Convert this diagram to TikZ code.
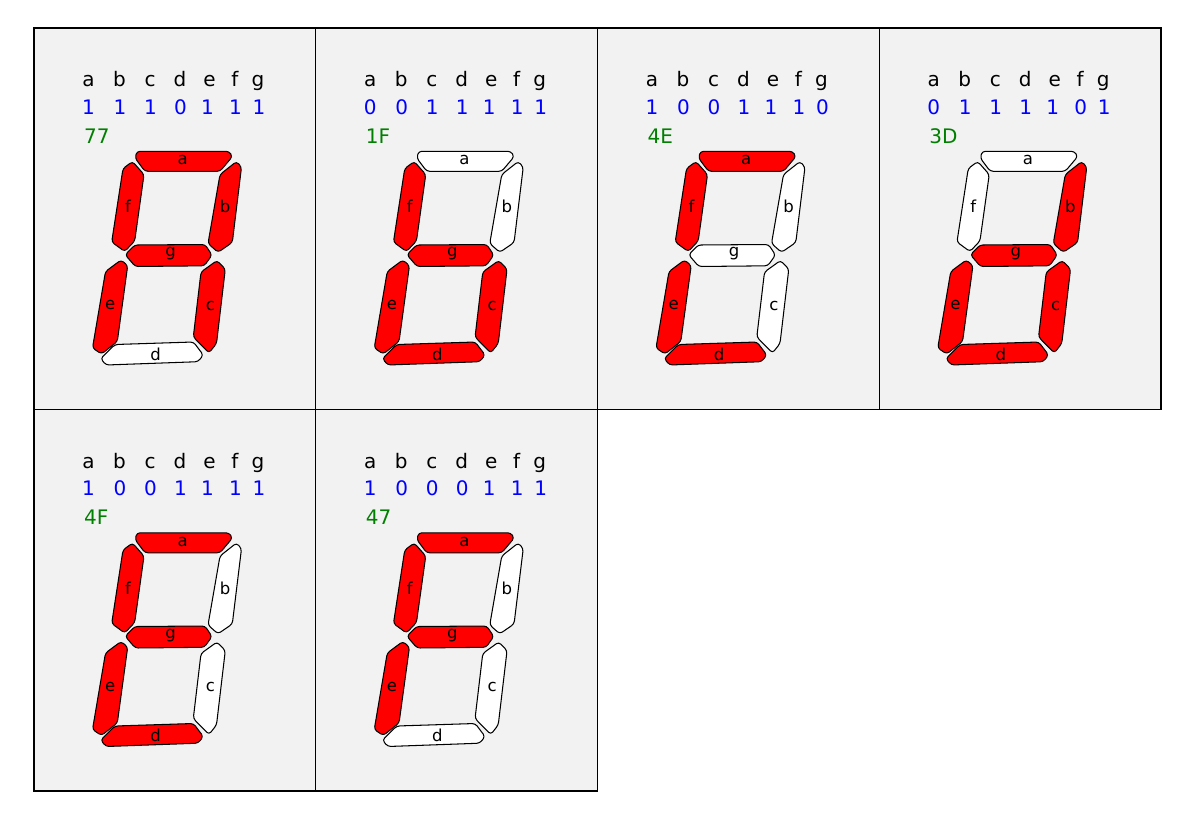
\documentclass[tikz,border=0pt]{standalone}
\usepackage{fontspec}
\setmainfont{DejaVu Sans}
\definecolor{panelbg}{RGB}{242,242,242}
\definecolor{segred}{RGB}{255,0,0}
\definecolor{bitblue}{RGB}{0,0,255}
\definecolor{hexgreen}{RGB}{0,128,0}
\tikzset{
  panelbox/.style={draw=black, fill=panelbg, line width=1.2pt},
  seg/.style={draw=black, line width=1.05pt, rounded corners=3pt, line join=round},
  hdr/.style={anchor=base, inner sep=0pt, font=\fontsize{20}{24}\selectfont},
  bit/.style={hdr, text=bitblue},
  hexlbl/.style={anchor=base west, inner sep=0pt, font=\fontsize{20}{24}\selectfont, text=hexgreen},
  seglbl/.style={inner sep=0pt, font=\fontsize{16.5}{19}\selectfont},
}
\newcommand\bitcol[1]{\ifnum#1=1 segred\else white\fi}
\def\parsebits#1#2#3#4#5#6#7\relax{%
  \edef\ca{\bitcol{#1}}\edef\cb{\bitcol{#2}}\edef\cc{\bitcol{#3}}%
  \edef\cd{\bitcol{#4}}\edef\ce{\bitcol{#5}}\edef\cf{\bitcol{#6}}\edef\cg{\bitcol{#7}}%
  \def\ba{#1}\def\bb{#2}\def\bc{#3}\def\bd{#4}\def\be{#5}\def\bf{#6}\def\bg{#7}}
\newcommand\panel[5]{%
  \parsebits#3\relax
  \begin{scope}[shift={({34+#1*281.75},{28+#2*381.5})}]
    \draw[panelbox] (0,0) rectangle (281.75,381.5);
    % header letters
    \node[hdr] (#5-ha) at (54.5,58.7) {a};
    \node[hdr] (#5-hb) at (85.5,58.7) {b};
    \node[hdr] (#5-hc) at (116,58.7) {c};
    \node[hdr] (#5-hd) at (146,58.7) {d};
    \node[hdr] (#5-he) at (175.5,58.7) {e};
    \node[hdr] (#5-hf) at (201,58.7) {f};
    \node[hdr] (#5-hg) at (224,58.7) {g};
    % bits
    \node[bit] (#5-ba) at (54.5,86) {\ba};
    \node[bit] (#5-bb) at (86,86) {\bb};
    \node[bit] (#5-bc) at (116.5,86) {\bc};
    \node[bit] (#5-bd) at (146.5,86) {\bd};
    \node[bit] (#5-be) at (173.5,86) {\be};
    \node[bit] (#5-bf) at (201.5,86) {\bf};
    \node[bit] (#5-bg) at (225,86) {\bg};
    % hex
    \node[hexlbl] (#5-hex) at (50,115.3) {#4};
    % segments
    \draw[seg, fill=\ca] (103,123.3) -- (195,123.3) -- (198.5,128.5) -- (186,143.3) -- (111,143.3) -- (101,130) -- cycle;
    \draw[seg, fill=\cf] (98.5,133.5) -- (110,146.5) -- (100.7,213) -- (90.7,223.5) -- (77.7,214) -- (89,140.5) -- cycle;
    \draw[seg, fill=\cb] (202.5,133.5) -- (207.5,139) -- (198.3,214.5) -- (184,224.3) -- (174,215.5) -- (186,146.5) -- cycle;
    \draw[seg, fill=\cg] (91.2,226.8) -- (100.7,217) -- (171,216.5) -- (178,227) -- (170.3,237.8) -- (101.3,238.5) -- cycle;
    \draw[seg, fill=\ce] (87,232) -- (93.7,237.5) -- (83.3,313.5) -- (67.5,326) -- (58.5,320) -- (71.5,243.5) -- cycle;
    \draw[seg, fill=\cc] (183,232.5) -- (191.3,241) -- (182.5,315.5) -- (175,325) -- (159.3,309) -- (167,244) -- cycle;
    \draw[seg, fill=\cd] (81,316.5) -- (159.5,314) -- (169.3,327) -- (164,333.7) -- (72,337) -- (66.7,330.5) -- cycle;
    % segment labels
    \node[seglbl] (#5-la) at (148.7,132) {a};
    \node[seglbl] (#5-lb) at (191.2,178.7) {b};
    \node[seglbl] (#5-lc) at (176.3,277.5) {c};
    \node[seglbl] (#5-ld) at (121.5,326.2) {d};
    \node[seglbl] (#5-le) at (76.3,277) {e};
    \node[seglbl] (#5-lf) at (94,178.7) {f};
    \node[seglbl] (#5-lg) at (136.5,226) {g};
  \end{scope}}
\begin{document}
\begin{tikzpicture}[x=1pt,y=-1pt]
  \fill[white] (0,0) rectangle (1200,823);
  \useasboundingbox (0,0) rectangle (1200,823);
  \panel{0}{0}{1110111}{77}{p1}
  \panel{1}{0}{0011111}{1F}{p2}
  \panel{2}{0}{1001110}{4E}{p3}
  \panel{3}{0}{0111101}{3D}{p4}
  \panel{0}{1}{1001111}{4F}{p5}
  \panel{1}{1}{1000111}{47}{p6}
\end{tikzpicture}
\end{document}
